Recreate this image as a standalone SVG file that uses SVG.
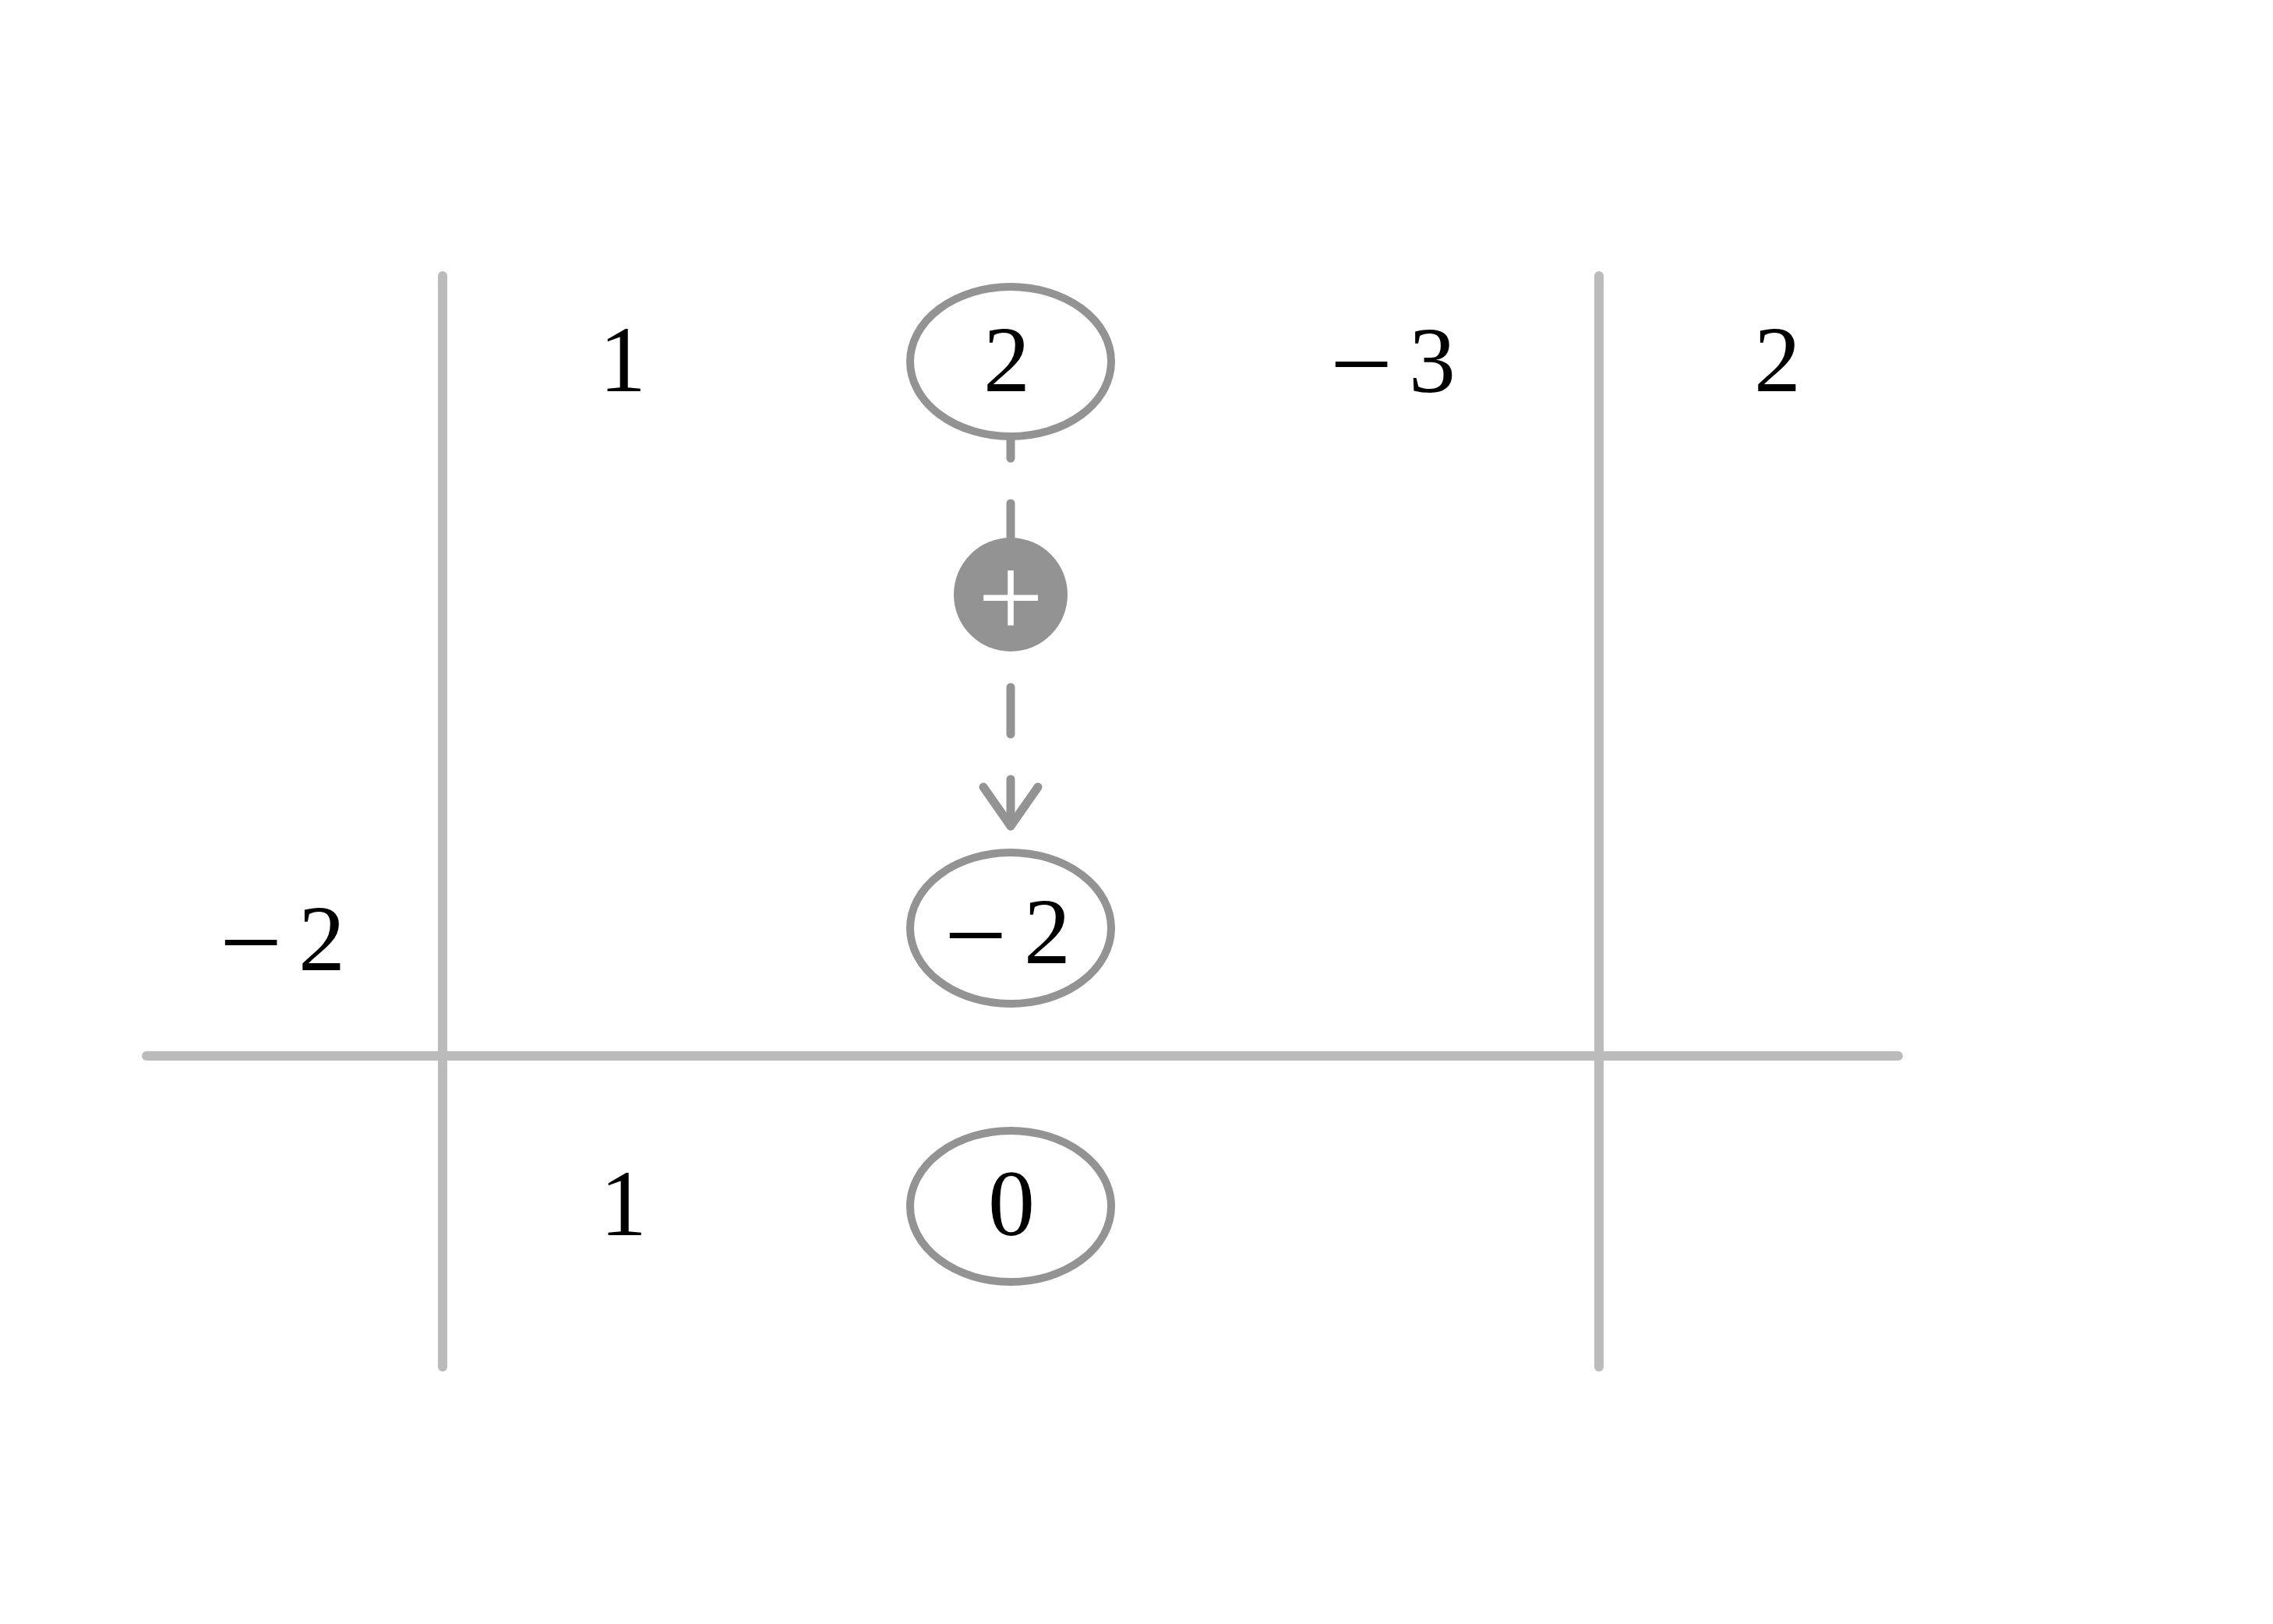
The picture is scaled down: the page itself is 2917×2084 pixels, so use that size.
<svg xmlns="http://www.w3.org/2000/svg" width="2917" height="2084" viewBox="0 0 2917 2084">
<style>
.grid{stroke:#BBBBBB;stroke-width:12;stroke-linecap:round;fill:none}
.node{fill:#FFFFFF;stroke:#939393;stroke-width:10}
.op{fill:#939393}
.conn{stroke:#939393;stroke-width:11;stroke-linecap:round;stroke-linejoin:round;fill:none}
.num{font-family:"Liberation Serif","Times New Roman",serif;font-size:120px;fill:#000000;text-anchor:middle}
.neg{font-size:143px}
.plus{font-family:"Liberation Serif","Times New Roman",serif;font-size:150px;fill:#FFFFFF;text-anchor:middle}
</style>
<rect width="2917" height="2084" fill="#FFFFFF"/>
<g id="grid">
<line class="grid" x1="568" y1="354" x2="568" y2="1754"/>
<line class="grid" x1="2052" y1="354" x2="2052" y2="1754"/>
<line class="grid" x1="188" y1="1355" x2="2436" y2="1355"/>
</g>
<g id="connectors">
<path class="conn" d="M1297,561 L1297,1060" stroke-dasharray="60 58" stroke-dashoffset="33"/>
<path class="conn" d="M1262,1010 L1297,1060 L1332,1010"/>
</g>
<g id="labels">
<text id="t-r1c1" class="num" x="799" y="502">1</text>
<text id="t-r1c3" class="num"><tspan class="neg" x="1747" y="515">−</tspan><tspan x="1838" y="503">3</tspan></text>
<text id="t-r1c4" class="num" x="2281" y="502">2</text>
<text id="t-r2c0" class="num"><tspan class="neg" x="322" y="1257">−</tspan><tspan x="413" y="1245">2</tspan></text>
<text id="t-r3c1" class="num" x="800" y="1585">1</text>
</g>
<g id="node-top">
<ellipse class="node" cx="1297" cy="464" rx="129" ry="96"/>
<text class="num" x="1292" y="502">2</text>
</g>
<g id="node-plus">
<circle class="op" cx="1297" cy="763" r="73"/>
<text class="plus" x="1297" y="817">+</text>
</g>
<g id="node-mid">
<ellipse class="node" cx="1297" cy="1191" rx="129" ry="97"/>
<text class="num"><tspan class="neg" x="1252" y="1248">−</tspan><tspan x="1344" y="1236">2</tspan></text>
</g>
<g id="node-bottom">
<ellipse class="node" cx="1297" cy="1548" rx="129" ry="97"/>
<text class="num" x="1298" y="1585">0</text>
</g>
</svg>
